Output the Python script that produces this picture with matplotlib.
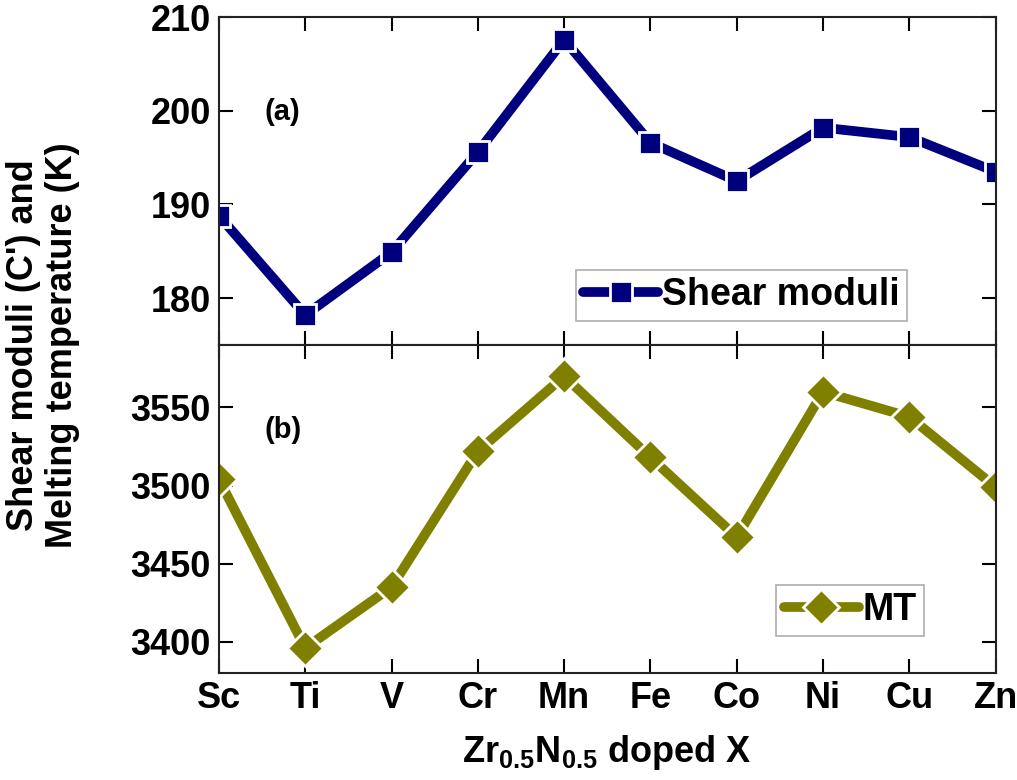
import numpy as np
import matplotlib
matplotlib.use("Agg")
import matplotlib.pyplot as plt

elements = ["Sc", "Ti", "V", "Cr", "Mn", "Fe", "Co", "Ni", "Cu", "Zn"]
shear = [188.8, 178.2, 184.9, 195.6, 207.6, 196.6, 192.5, 198.2, 197.2, 193.5]
mt = [3504, 3396, 3435, 3522, 3570, 3518, 3467, 3560, 3544, 3499]

plt.rcParams['font.family'] = ['Liberation Sans', 'DejaVu Sans']
plt.rcParams['font.weight'] = 'bold'
plt.rcParams['mathtext.fontset'] = 'custom'
plt.rcParams['mathtext.rm'] = 'Liberation Sans:bold'
plt.rcParams['mathtext.default'] = 'rm'

fig = plt.figure(figsize=(10.17, 7.8), dpi=100)
ax1 = fig.add_axes([0.2153, 0.5577, 0.7637, 0.4203])
ax2 = fig.add_axes([0.2153, 0.1372, 0.7637, 0.4205], sharex=ax1)

x = np.arange(len(elements))

ax1.plot(x, shear, color='#00007f', lw=7, marker='s', ms=16,
         mec='white', mew=2, solid_capstyle='round', label='Shear moduli')
ax2.plot(x, mt, color='#808000', lw=7, marker='D', ms=18,
         mec='white', mew=2, solid_capstyle='round', label='MT')

ax1.set_ylim(175, 210)
ax1.set_yticks([180, 190, 200, 210])
ax2.set_ylim(3380, 3590)
ax2.set_yticks([3400, 3450, 3500, 3550])
ax1.set_xlim(0, len(elements) - 1)
ax2.set_xticks(x)
ax2.set_xticklabels(elements)

for ax in (ax1, ax2):
    ax.tick_params(direction='in', length=10, width=1.5, top=True, right=True,
                   labelsize=26, pad=6)
    for s in ax.spines.values():
        s.set_linewidth(1.5)
        s.set_color('#222222')
    for lab in ax.get_yticklabels() + ax.get_xticklabels():
        lab.set_fontweight('bold')
ax1.tick_params(labelbottom=False)

ax1.text(0.082, 0.71, "(a)", transform=ax1.transAxes, fontsize=21,
         fontweight='bold', ha='center', va='center')
ax2.text(0.082, 0.74, "(b)", transform=ax2.transAxes, fontsize=21,
         fontweight='bold', ha='center', va='center')

leg1 = ax1.legend(loc='center', bbox_to_anchor=(0.673, 0.152), fontsize=27,
                  fancybox=False, edgecolor='#999999', handlelength=2.0,
                  handletextpad=0.1, borderpad=0.2, borderaxespad=0)
leg2 = ax2.legend(loc='center', bbox_to_anchor=(0.813, 0.192), fontsize=27,
                  fancybox=False, edgecolor='#999999', handlelength=2.0,
                  handletextpad=0.1, borderpad=0.2, borderaxespad=0)
for leg in (leg1, leg2):
    leg.get_frame().set_linewidth(1.2)
    for t in leg.get_texts():
        t.set_fontweight('bold')

fig.text(0.042, 0.557, "Shear moduli (C') and\nMelting temperature (K)",
         rotation=90, fontsize=26, fontweight='bold', ha='center', va='center',
         linespacing=1.15)
fig.text(0.597, 0.035, r"Zr$_{0.5}$N$_{0.5}$ doped X", fontsize=26,
         fontweight='bold', ha='center', va='center')

fig.savefig("out.png", dpi=100)
